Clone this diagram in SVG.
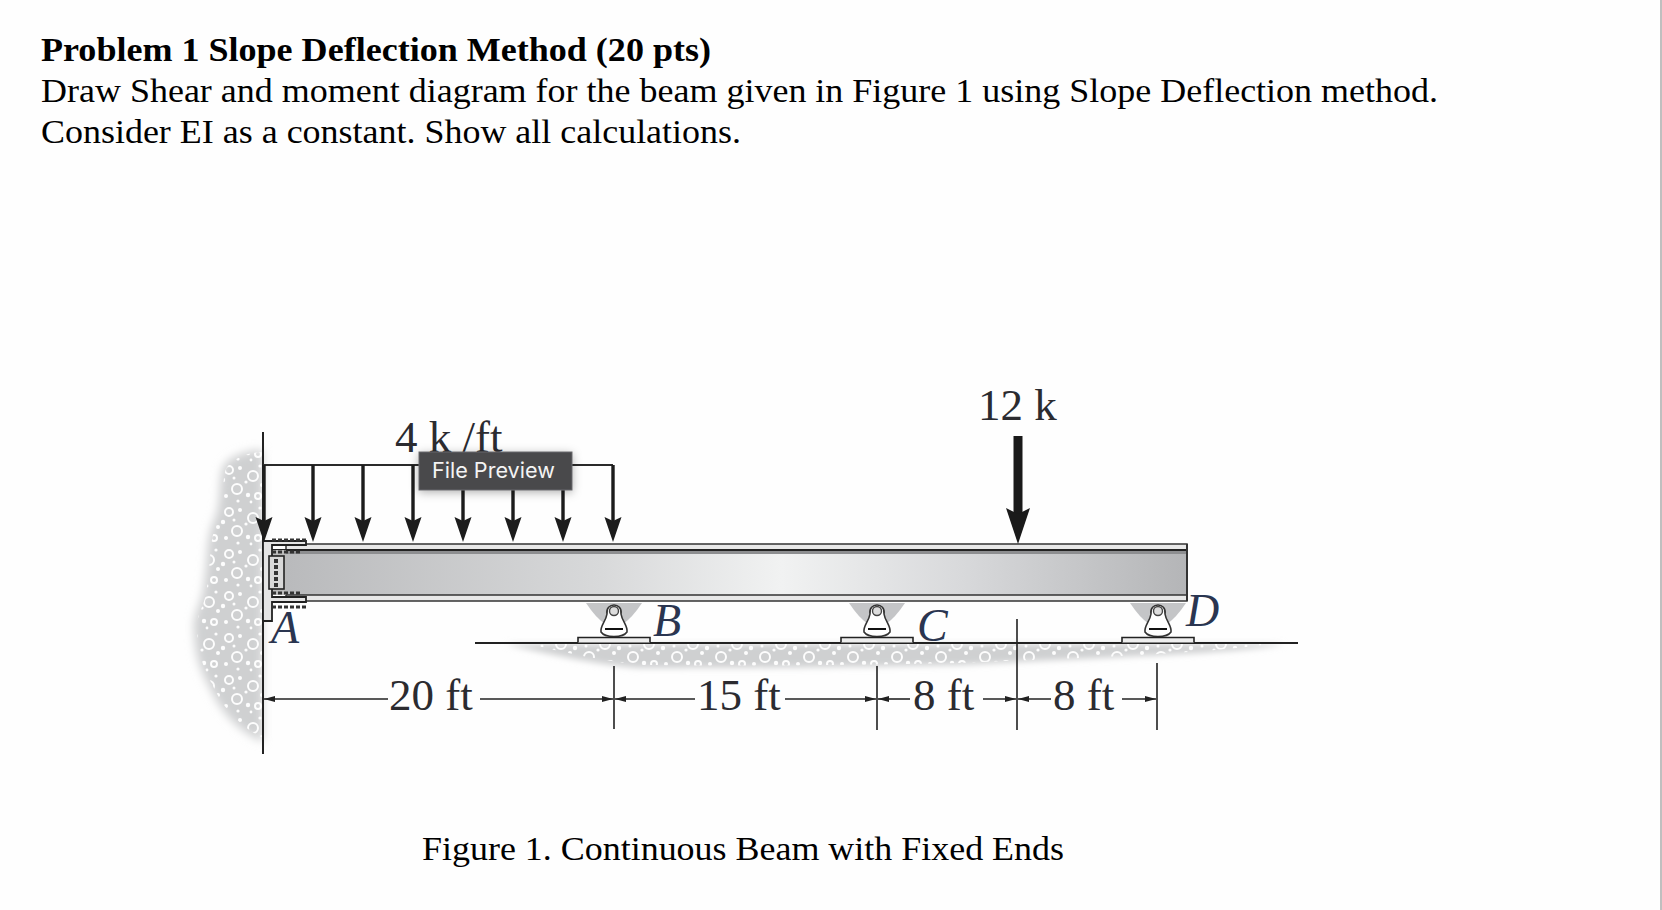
<svg xmlns="http://www.w3.org/2000/svg" width="1662" height="910" viewBox="0 0 1662 910">
<style>
.t{font-family:"Liberation Serif","Times New Roman",serif;fill:#000}
.h{font-size:34.5px}
.l{font-family:"Liberation Serif","Times New Roman",serif;font-size:45px;fill:#2b2b30}
.i{font-family:"Liberation Serif","Times New Roman",serif;font-size:46px;font-style:italic;fill:#2a3550}
.s{stroke:#2a2a2a;stroke-width:2;fill:none}
.dim{stroke:#222;stroke-width:1.6;fill:none}
.sh{stroke:#1c1c1c;stroke-width:3.4;fill:none}
.ah{fill:#1c1c1c}
.sup{fill:#fff;stroke:#333;stroke-width:1.6}
</style>
<defs>
<pattern id="st" width="44" height="42" patternUnits="userSpaceOnUse">
<g fill="none" stroke="#fff" stroke-width="2" opacity=".95">
<circle cx="9" cy="8" r="4"/><circle cx="33" cy="14" r="5"/><circle cx="17" cy="27" r="5"/><circle cx="38" cy="34" r="3"/>
</g>
<g fill="#fff" opacity=".95">
<circle cx="20" cy="6" r="2"/><circle cx="40" cy="4" r="1.6"/><circle cx="3" cy="18" r="2.2"/><circle cx="14" cy="16" r="1.5"/>
<circle cx="26" cy="20" r="1.6"/><circle cx="42" cy="23" r="2"/><circle cx="28" cy="33" r="2.2"/><circle cx="6" cy="34" r="2"/><circle cx="18" cy="39" r="1.6"/><circle cx="31" cy="40" r="1.4"/>
</g>
</pattern>
<linearGradient id="bm" x1="0" x2="1" y1="0" y2="0">
<stop offset="0" stop-color="#b9babc"/><stop offset=".35" stop-color="#d8d9da"/><stop offset=".55" stop-color="#f1f2f2"/><stop offset=".75" stop-color="#d8d9db"/><stop offset="1" stop-color="#b4b5b7"/>
</linearGradient>
<filter id="bl" x="-20%" y="-20%" width="140%" height="140%"><feGaussianBlur stdDeviation="5"/></filter>
<filter id="bs" x="-5%" y="-50%" width="110%" height="200%"><feGaussianBlur stdDeviation="3"/></filter>
<filter id="ts" x="-15%" y="-30%" width="130%" height="170%"><feDropShadow dx="0" dy="2" stdDeviation="5" flood-color="#000" flood-opacity=".3"/></filter>
<g id="dn"><path d="M-8.5 0L0 4L8.5 0L0 25Z" class="ah"/></g>
<g id="rocker">
<path d="M-28 603H28Q18 618 9 624H-9Q-18 618 -28 603Z" fill="#c4c5c7"/>
<path d="M-7 614C-9 602 9 602 7 614C8 621 14 626 13 632C9 638 -9 638 -13 632C-14 626 -8 621 -7 614Z" class="sup"/>
<circle cx="0" cy="611" r="4.5" fill="#ddd" stroke="#444" stroke-width="1.4"/>
<path d="M-9 629H9" stroke="#111" stroke-width="2"/>
<path d="M-36 642.5V637.5H36V642.5" fill="#eee" stroke="#222" stroke-width="1.6"/>
</g>
<marker id="ae" markerWidth="12" markerHeight="8" refX="11" refY="4" orient="auto" markerUnits="userSpaceOnUse"><path d="M0 1L11 4L0 7Z" fill="#222"/></marker>
</defs>
<rect width="1662" height="910" fill="#fefefe"/>
<path d="M1661 0V910" stroke="#aaa" stroke-width="1.5"/>

<g id="heading">
<text class="t h" x="41" y="60.5" font-weight="bold" textLength="670" lengthAdjust="spacingAndGlyphs">Problem 1 Slope Deflection Method (20 pts)</text>
<text class="t h" x="41" y="101.5" textLength="1397" lengthAdjust="spacingAndGlyphs">Draw Shear and moment diagram for the beam given in Figure 1 using Slope Deflection method.</text>
<text class="t h" x="41" y="142.5" textLength="700" lengthAdjust="spacingAndGlyphs">Consider EI as a constant. Show all calculations.</text>
</g>

<g id="wall">
<path d="M263 450C245 450 225 458 222 470C218 490 222 505 213 523C206 540 208 560 204 585C202 605 193 612 194 630C195 655 200 670 210 688C218 705 232 728 263 742Z" fill="#cfd0d1" filter="url(#bl)"/>
<path d="M263 452C247 452 228 460 225 472C221 492 225 507 216 525C209 542 211 562 207 587C205 607 196 614 197 630C198 653 203 668 213 686C221 703 235 724 263 738Z" fill="url(#st)"/>
<path d="M263 432V754" stroke="#222" stroke-width="2"/>
</g>

<g id="ground">
<path d="M505 644H1285C1240 654 1100 657 960 665C820 668 700 668 640 668C590 664 540 652 505 644Z" fill="#cfd0d1" filter="url(#bs)"/>
<path d="M530 644H1270C1200 654 1100 657 960 663C820 666 700 666 640 665C600 660 560 652 530 644Z" fill="url(#st)"/>
<path d="M475 643H1298" stroke="#222" stroke-width="2"/>
</g>

<g id="support-b"><use href="#rocker" x="614"/></g>
<g id="support-c"><use href="#rocker" x="877"/></g>
<g id="support-d"><use href="#rocker" x="1158"/></g>

<g id="beam">
<rect x="286" y="549" width="901" height="46" fill="url(#bm)"/>
<rect x="286" y="544" width="901" height="6" fill="#e8e8e8" stroke="#333" stroke-width="1.5"/>
<path d="M272 550H1187" stroke="#222" stroke-width="2"/>
<path d="M286 552.5H1187" stroke="#8d8e90" stroke-width="3"/>
<rect x="286" y="595" width="901" height="6" fill="#e8e8e8" stroke="#333" stroke-width="1.5"/>
<path d="M1187 544V601" stroke="#333" stroke-width="2"/>
</g>

<g id="fixed-connection">
<rect x="267" y="550" width="19" height="45" fill="#bbb"/>
<path d="M263 541H306V545H272V597H306V602H272V621H263Z" fill="#e4e4e4" stroke="#222" stroke-width="1.8"/>
<rect x="269" y="556" width="15" height="33" fill="#d8d8d8" stroke="#222" stroke-width="1.6"/>
<path d="M276 559V587" stroke="#333" stroke-width="4" stroke-dasharray="4 2"/>
<path d="M272 540H306M272 552H302M272 593H302M272 607H306" stroke="#333" stroke-width="3" stroke-dasharray="4 2"/>
</g>

<g id="connectors">
<path d="M263 465H613" class="s"/>
<path class="sh" d="M264 465V522M313 465V522M363 465V522M413 465V522M463 465V522M513 465V522M563 465V522M613 465V522"/>
<use href="#dn" x="264" y="517"/><use href="#dn" x="313" y="517"/><use href="#dn" x="363" y="517"/><use href="#dn" x="413" y="517"/><use href="#dn" x="463" y="517"/><use href="#dn" x="513" y="517"/><use href="#dn" x="563" y="517"/><use href="#dn" x="613" y="517"/>
<path d="M1018 436V514" stroke="#1a1a1a" stroke-width="9"/>
<path d="M1006 508L1018 514L1030 508L1018 544Z" fill="#1a1a1a"/>
<path class="dim" d="M614 666V729M877 666V730M1017 619V730M1157 663V730"/>
<path class="dim" d="M388 699H264" marker-end="url(#ae)"/>
<path class="dim" d="M480 699H613" marker-end="url(#ae)"/>
<path class="dim" d="M695 699H615" marker-end="url(#ae)"/>
<path class="dim" d="M785 699H876" marker-end="url(#ae)"/>
<path class="dim" d="M910 699H878" marker-end="url(#ae)"/>
<path class="dim" d="M983 699H1016" marker-end="url(#ae)"/>
<path class="dim" d="M1051 699H1018" marker-end="url(#ae)"/>
<path class="dim" d="M1122 699H1156" marker-end="url(#ae)"/>
</g>

<g id="labels">
<text class="l" x="395" y="452">4 k /ft</text>
<text class="l" x="978" y="420">12 k</text>
<text class="i" x="271" y="643">A</text>
<text class="i" x="653" y="636">B</text>
<text class="i" x="917" y="641">C</text>
<text class="i" x="1186" y="626">D</text>
<text class="l" x="389" y="710">20 ft</text>
<text class="l" x="697" y="710">15 ft</text>
<text class="l" x="913" y="710">8 ft</text>
<text class="l" x="1053" y="710">8 ft</text>
</g>

<g id="tooltip">
<rect x="419" y="452" width="153" height="38" fill="#48484b" stroke="#6a6a6c" stroke-width="1" filter="url(#ts)"/>
<text x="432" y="478" font-family="Inter,'Noto Sans',sans-serif" font-size="21.6" fill="#f4f4f4">File Preview</text>
</g>

<g id="caption">
<text class="t h" x="422" y="860" textLength="642" lengthAdjust="spacingAndGlyphs">Figure 1. Continuous Beam with Fixed Ends</text>
</g>
</svg>
